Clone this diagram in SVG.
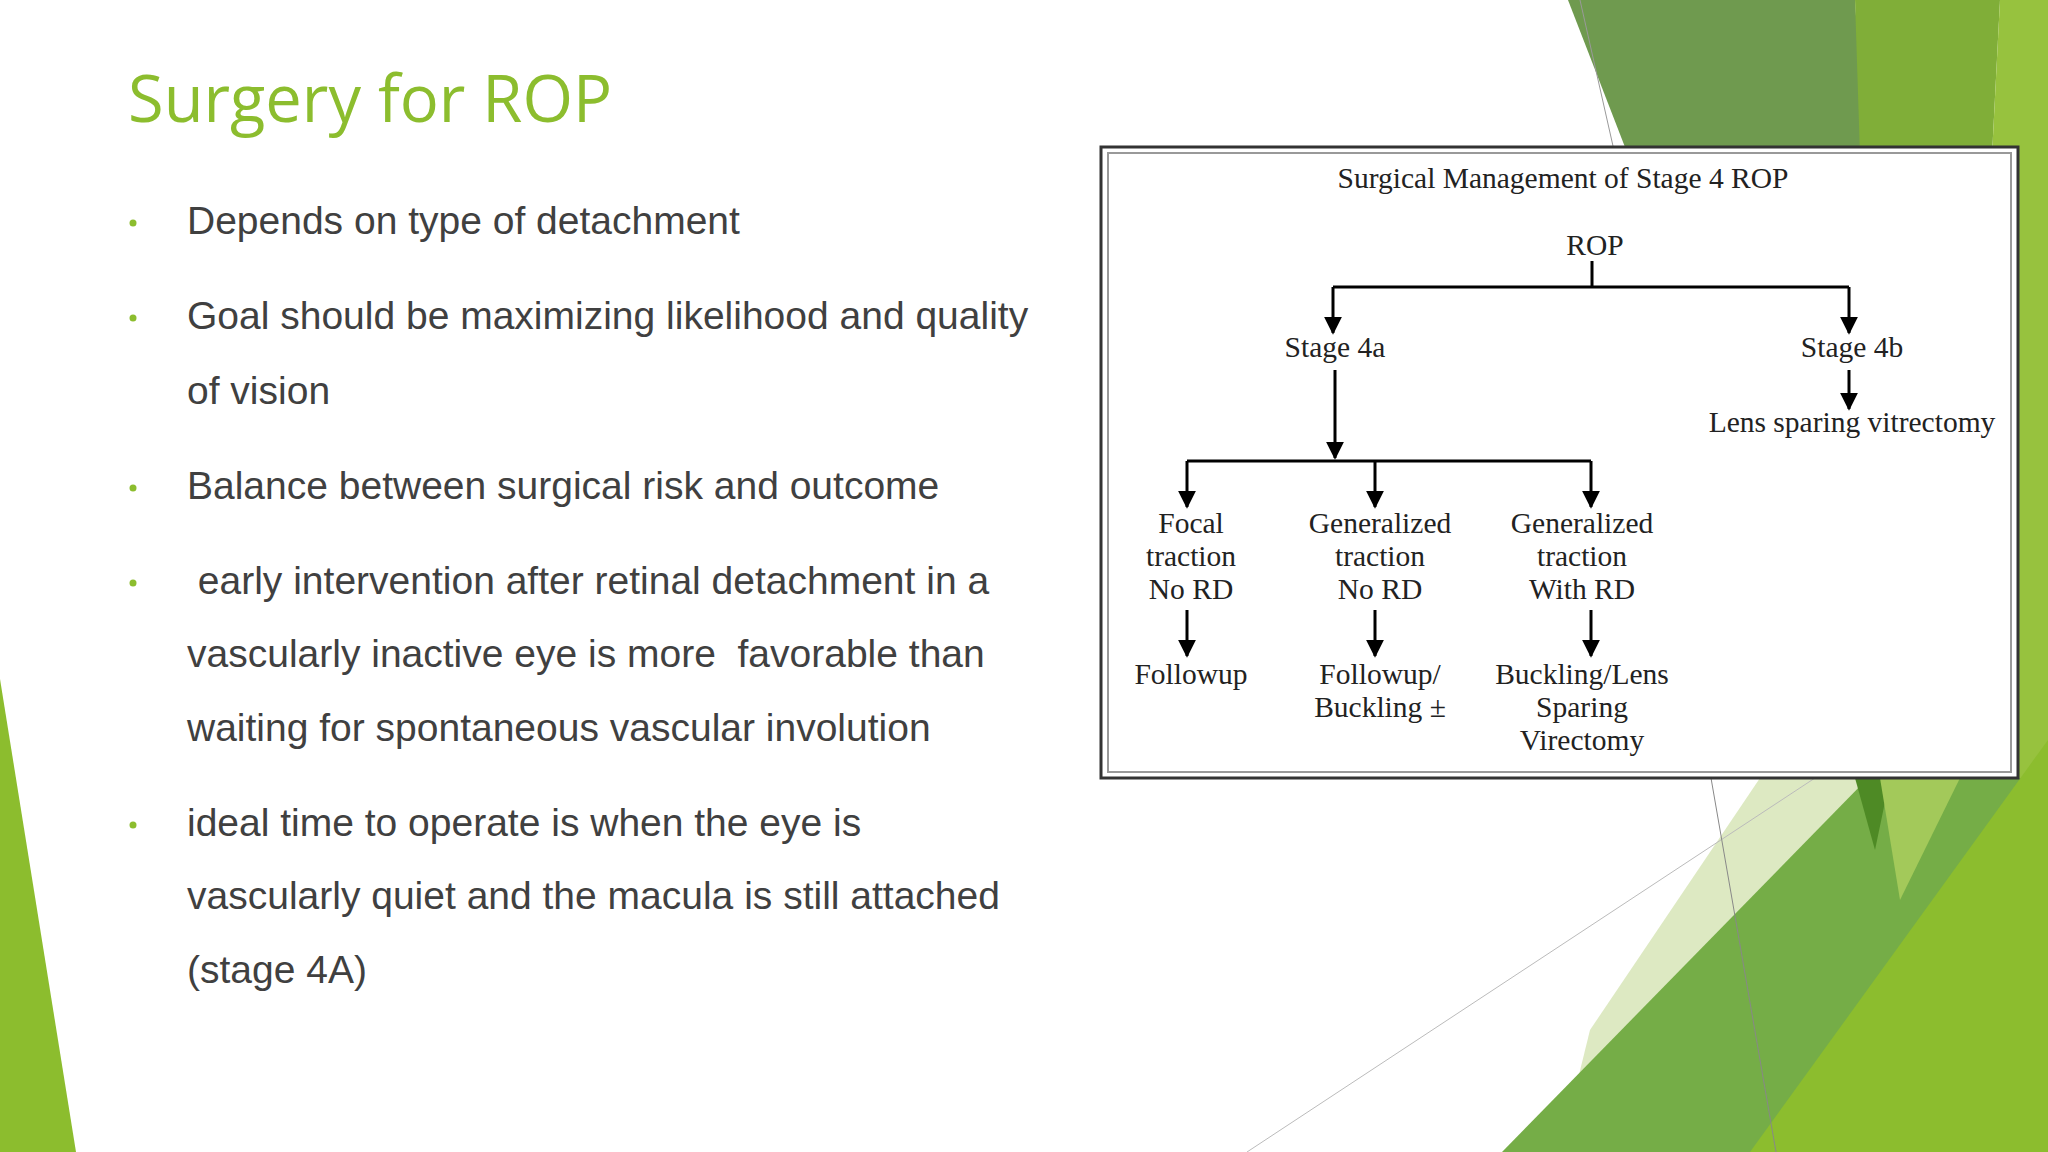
<svg xmlns="http://www.w3.org/2000/svg" width="2048" height="1152" viewBox="0 0 2048 1152">
<style>
.t{font-family:"Liberation Sans",Arial,sans-serif;font-size:39px;fill:#404040}
.b{fill:#8cbd2e}
.d{font-family:"Liberation Serif","Times New Roman",serif;font-size:29.5px;fill:#222;text-anchor:middle}
.c{stroke:#000;stroke-width:3;fill:none}
</style>
<defs><marker id="ah" viewBox="0 0 10 10" refX="9" refY="5" markerWidth="6" markerHeight="6" orient="auto"><path d="M0,0L10,5L0,10z" fill="#000"/></marker></defs>
<rect width="2048" height="1152" fill="#fff"/>
<g id="bg">
<polygon points="0,679 76,1152 0,1152" fill="#8cbd2e"/>
<polygon points="1568,0 1855,0 1905,800 1878,800" fill="#6f9a4f"/>
<polygon points="1855,0 2000,0 1960,778 1880,778" fill="#80ae38"/>
<polygon points="2000,0 2048,0 2048,778 1960,778" fill="#97c23e"/>
<polygon points="1590,1030 1760,778 1880,778 1700,1152 1560,1152" fill="#dde9c2"/>
<polygon points="1502,1152 1868,778 2048,778 2048,1152" fill="#75ad47"/>
<polygon points="1855,778 1890,778 1875,850" fill="#4e8a25"/>
<polygon points="1880,778 1960,778 1900,900" fill="#a3c95a"/>
<polygon points="1750,1152 2048,740 2048,1152" fill="#8cbd2e"/>
<line x1="1580" y1="0" x2="1613" y2="146" stroke="#999" stroke-width="1"/>
<line x1="1247" y1="1152" x2="1815" y2="778" stroke="#bbb" stroke-width="1"/>
<line x1="1711" y1="778" x2="1776" y2="1152" stroke="#888" stroke-width="1"/>
</g>
<g id="text">
<text x="128" y="122" font-family="'Open Sans','Liberation Sans',sans-serif" font-size="65" fill="#8cbd2e">Surgery for ROP</text>
<g class="b"><circle cx="133" cy="223" r="3.5"/><circle cx="133" cy="318" r="3.5"/><circle cx="133" cy="488" r="3.5"/><circle cx="133" cy="583" r="3.5"/><circle cx="133" cy="825" r="3.5"/></g>
<text class="t" x="187" y="234">Depends on type of detachment</text>
<text class="t" x="187" y="329">Goal should be maximizing likelihood and quality</text>
<text class="t" x="187" y="404">of vision</text>
<text class="t" x="187" y="499">Balance between surgical risk and outcome</text>
<text class="t" x="187" y="594" xml:space="preserve"> early intervention after retinal detachment in a</text>
<text class="t" x="187" y="667" xml:space="preserve">vascularly inactive eye is more  favorable than</text>
<text class="t" x="187" y="741">waiting for spontaneous vascular involution</text>
<text class="t" x="187" y="836">ideal time to operate is when the eye is</text>
<text class="t" x="187" y="909">vascularly quiet and the macula is still attached</text>
<text class="t" x="187" y="983">(stage 4A)</text>
</g>
<g id="figure">
<rect x="1101" y="147" width="917" height="631" fill="#fff" stroke="#333" stroke-width="3"/>
<rect x="1108" y="153" width="903" height="619" fill="none" stroke="#999" stroke-width="2"/>
<text class="d" x="1563" y="188">Surgical Management of Stage 4 ROP</text>
</g>
<g id="nodes">
<text id="rop" class="d" x="1595" y="255">ROP</text>
<text id="s4a" class="d" x="1335" y="357">Stage 4a</text>
<text id="s4b" class="d" x="1852" y="357">Stage 4b</text>
<text id="lsv" class="d" x="1852" y="432">Lens sparing vitrectomy</text>
<g id="n1"><text class="d" x="1191" y="533">Focal</text><text class="d" x="1191" y="566">traction</text><text class="d" x="1191" y="599">No RD</text></g>
<g id="n2"><text class="d" x="1380" y="533">Generalized</text><text class="d" x="1380" y="566">traction</text><text class="d" x="1380" y="599">No RD</text></g>
<g id="n3"><text class="d" x="1582" y="533">Generalized</text><text class="d" x="1582" y="566">traction</text><text class="d" x="1582" y="599">With RD</text></g>
<g id="o1"><text class="d" x="1191" y="684">Followup</text></g>
<g id="o2"><text class="d" x="1380" y="684">Followup/</text><text class="d" x="1380" y="717">Buckling ±</text></g>
<g id="o3"><text class="d" x="1582" y="684">Buckling/Lens</text><text class="d" x="1582" y="717">Sparing</text><text class="d" x="1582" y="750">Virectomy</text></g>
</g>
<g id="connectors" class="c">
<path d="M1592,261V287M1333,287H1849"/>
<path d="M1333,287V333" marker-end="url(#ah)"/>
<path d="M1849,287V333" marker-end="url(#ah)"/>
<path d="M1849,370V409" marker-end="url(#ah)"/>
<path d="M1335,370V458" marker-end="url(#ah)"/>
<path d="M1187,461H1591"/>
<path d="M1187,461V507" marker-end="url(#ah)"/>
<path d="M1375,461V507" marker-end="url(#ah)"/>
<path d="M1591,461V507" marker-end="url(#ah)"/>
<path d="M1187,610V656" marker-end="url(#ah)"/>
<path d="M1375,610V656" marker-end="url(#ah)"/>
<path d="M1591,610V656" marker-end="url(#ah)"/>
</g>
</svg>
